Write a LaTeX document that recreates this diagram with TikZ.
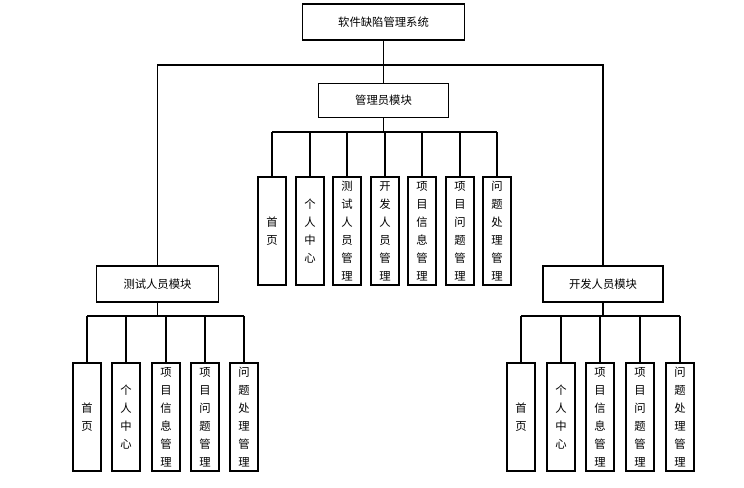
\documentclass[tikz,border=0pt]{standalone}
\usepackage{fontspec}
\newfontfamily\cjk{Noto Sans CJK SC}
\begin{document}
\begin{tikzpicture}[x=0.75pt,y=-0.75pt,
  box/.style={draw,thick,fill=white,inner sep=0,font=\cjk\fontsize{8.5}{10}\selectfont},
  vbox/.style={draw,thick,fill=white,inner sep=0,minimum width=21pt,minimum height=81pt,align=center,font=\cjk\fontsize{8.5}{13.5}\selectfont},
  ln/.style={thick}]
\useasboundingbox (0,0) rectangle (744,487);
\node[box,minimum width=122pt,minimum height=27pt] (top) at (383.5,22) {软件缺陷管理系统};
\node[box,minimum width=98pt,minimum height=26pt] (adm) at (383.5,100.5) {管理员模块};
\node[box,minimum width=91pt,minimum height=27pt] (tst) at (157.5,284) {测试人员模块};
\node[box,minimum width=90pt,minimum height=27pt] (dev) at (603,284) {开发人员模块};
\coordinate (j) at (383.5,65);
\draw[ln] (top) -- (j);
\draw[ln] (j) -- (adm);
\draw[ln] (tst) |- (j) -| (dev);
% admin children
\foreach \n/\x/\t in {a1/272/首\\页, a2/310/个\\人\\中\\心, a3/347/测\\试\\人\\员\\管\\理, a4/385/开\\发\\人\\员\\管\\理, a5/422/项\\目\\信\\息\\管\\理, a6/460/项\\目\\问\\题\\管\\理, a7/497/问\\题\\处\\理\\管\\理}{
  \node[vbox] (\n) at (\x,231) {\t};
  \draw[ln] (\n.north) -- (\x,132);
}
\draw[ln] (272,132) -- (497,132);
\draw[ln] (adm) -- (383.5,132);
% tester children
\foreach \n/\x/\t in {t1/87/首\\页, t2/126/个\\人\\中\\心, t3/166/项\\目\\信\\息\\管\\理, t4/205/项\\目\\问\\题\\管\\理, t5/244/问\\题\\处\\理\\管\\理}{
  \node[vbox] (\n) at (\x,417) {\t};
  \draw[ln] (\n.north) -- (\x,316);
}
\draw[ln] (87,316) -- (244,316);
\draw[ln] (tst) -- (157.5,316);
% dev children
\foreach \n/\x/\t in {d1/521/首\\页, d2/561/个\\人\\中\\心, d3/600/项\\目\\信\\息\\管\\理, d4/640/项\\目\\问\\题\\管\\理, d5/680/问\\题\\处\\理\\管\\理}{
  \node[vbox] (\n) at (\x,417) {\t};
  \draw[ln] (\n.north) -- (\x,316);
}
\draw[ln] (521,316) -- (680,316);
\draw[ln] (dev) -- (603,316);
\end{tikzpicture}
\end{document}
